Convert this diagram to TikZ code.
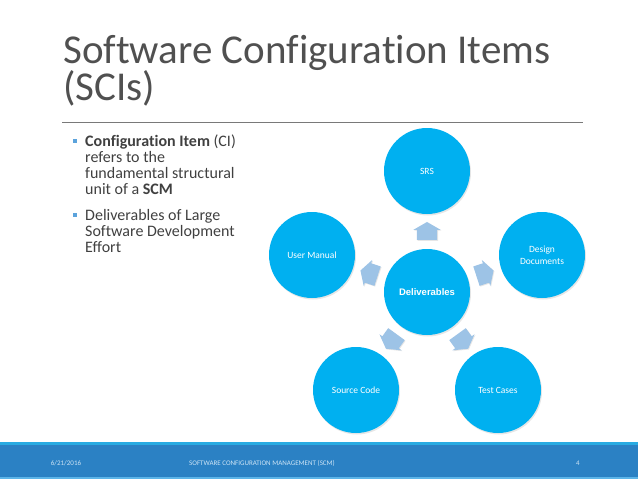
\documentclass[tikz,border=0pt]{standalone}
\usepackage{fontspec}
\setmainfont{Carlito}[Ligatures=NoCommon]
\newfontfamily\arialfont{Liberation Sans}
\usetikzlibrary{shapes.arrows,calc,shadows}
\definecolor{ttl}{RGB}{64,64,64}
\definecolor{hdc}{RGB}{80,80,80}
\definecolor{cyanc}{RGB}{0,176,240}
\definecolor{arrc}{RGB}{157,195,230}
\definecolor{bulc}{RGB}{91,163,220}
\definecolor{barlt}{RGB}{41,171,226}
\definecolor{bardk}{RGB}{43,129,196}
\definecolor{barbt}{RGB}{93,181,232}
\definecolor{ftxt}{RGB}{205,228,245}
\tikzset{
  circ/.style={circle,fill=cyanc,minimum size=86pt,inner sep=0pt,text=white,align=center,font=\fontsize{9.5}{12}\selectfont,drop shadow={shadow xshift=1pt,shadow yshift=-1.5pt,opacity=0.2}},
  blk/.style={single arrow,fill=arrc,minimum width=27pt,minimum height=18pt,single arrow head extend=3.5pt,single arrow tip angle=120,inner xsep=0pt,inner ysep=10pt,drop shadow={shadow xshift=0.8pt,shadow yshift=-0.8pt,opacity=0.2}},
  bul/.style={fill=bulc,minimum size=4pt,inner sep=0pt},
  txt/.style={anchor=base west,inner sep=0pt,text=ttl,font=\fontsize{16}{16}\selectfont},
  ftr/.style={text=ftxt,font=\fontsize{7}{8}\selectfont},
}
\begin{document}
\begin{tikzpicture}[x=1pt,y=-1pt]
 \useasboundingbox (0,0) rectangle (638,479);
 % title
 \node[txt,text=hdc,font=\fontsize{41}{41}\selectfont] (t1) at (63,63) {Software Configuration Items};
 \node[txt,text=hdc,font=\fontsize{41}{41}\selectfont] (t2) at (63,100) {(SCIs)};
 \draw[ttl!70,line width=0.8pt] (62,122) -- (583,122);
 % bullets
 \foreach \t/\y [count=\i] in {{\textbf{Configuration Item} (CI)}/146,refers to the/162,fundamental structural/178,{unit of a \textbf{SCM}}/194,Deliverables of Large/220,Software Development/236,Effort/252}
  {\node[txt] (ln\i) at (85,\y) {\t};}
 \node[bul] (b1) at (75,140.5) {};
 \node[bul] (b2) at (75,214.5) {};
 % diagram
 \node[circ,font=\arialfont\bfseries\fontsize{9.5}{11}\selectfont] (del) at (427,292) {Deliverables};
 \node[circ] (srs) at (427,171) {SRS};
 \node[circ] (dsg) at (542,255) {Design\\Documents};
 \node[circ] (tst) at (498,390) {Test Cases};
 \node[circ] (src) at (356,390) {Source Code};
 \node[circ] (usr) at (312,255) {User Manual};
 \foreach \n/\a [count=\i] in {srs/90,dsg/18,tst/-54,src/-126,usr/162}
  {\node[blk,rotate=\a] (a\i) at ($(del)!0.48!(\n)$) {};}
 % footer
 \fill[barlt] (0,442) rectangle (638,445);
 \fill[bardk] (0,445) rectangle (638,477);
 \fill[barbt] (0,477) rectangle (638,479);
 \node[ftr] (date) at (66,463) {6/21/2016};
 \node[ftr] (foot) at (262,463) {SOFTWARE CONFIGURATION MANAGEMENT (SCM)};
 \node[ftr] (pg) at (578,463) {4};
\end{tikzpicture}
\end{document}
